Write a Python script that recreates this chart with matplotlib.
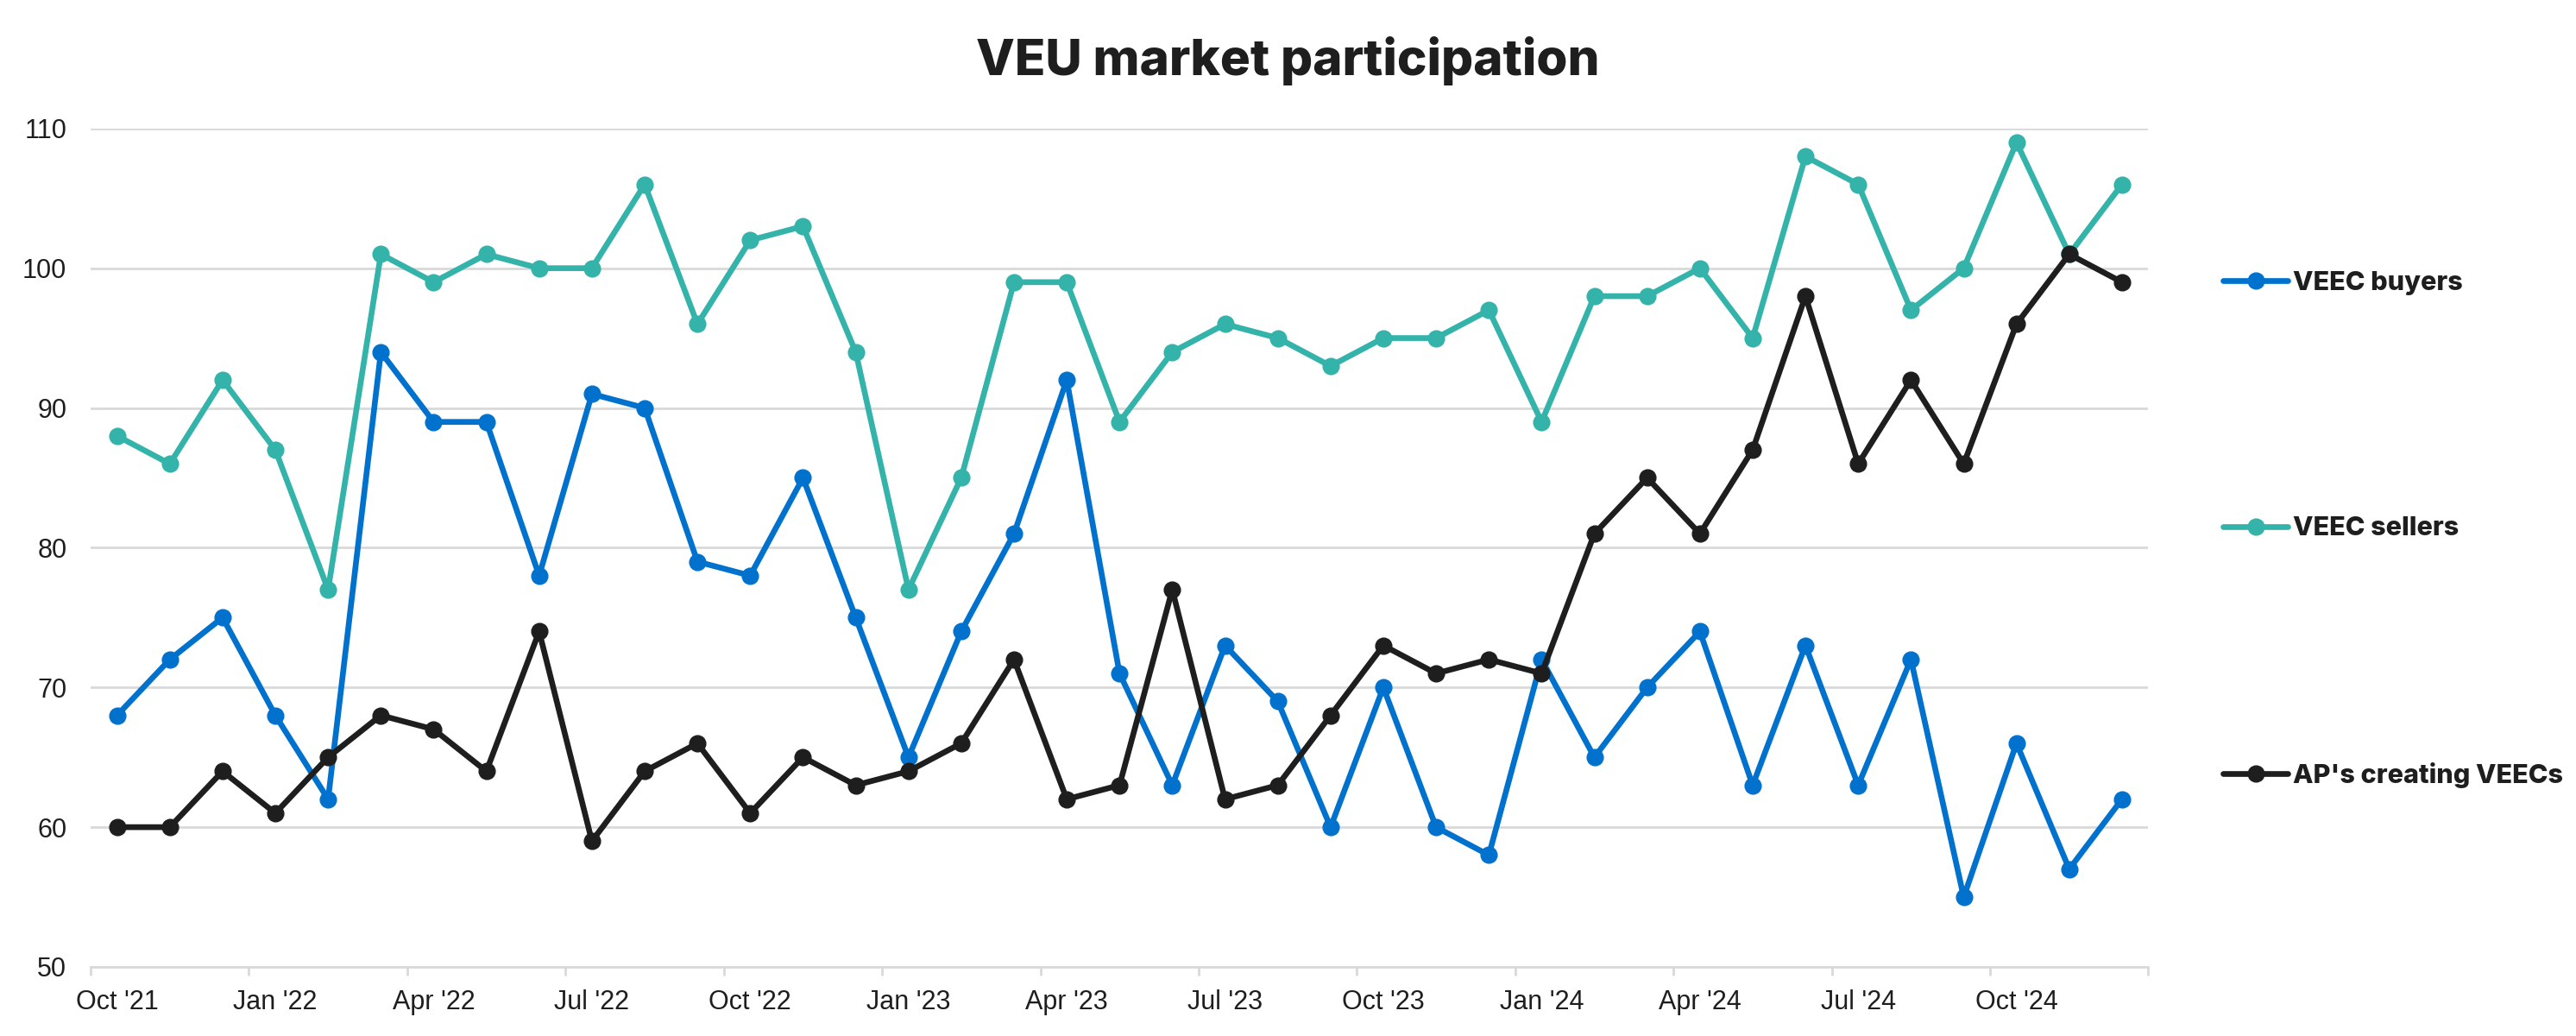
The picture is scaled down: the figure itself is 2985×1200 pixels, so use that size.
import matplotlib
matplotlib.use('Agg')
import matplotlib.pyplot as plt
import numpy as np

# monthly values, Oct 2021 .. Dec 2024
veec_buyers = [68, 72, 75, 68, 62, 94, 89, 89, 78, 91, 90, 79, 78, 85, 75, 65, 74, 81, 92, 71,
               63, 73, 69, 60, 70, 60, 58, 72, 65, 70, 74, 63, 73, 63, 72, 55, 66, 57, 62]
veec_sellers = [88, 86, 92, 87, 77, 101, 99, 101, 100, 100, 106, 96, 102, 103, 94, 77, 85, 99, 99, 89,
                94, 96, 95, 93, 95, 95, 97, 89, 98, 98, 100, 95, 108, 106, 97, 100, 109, 101, 106]
aps_creating = [60, 60, 64, 61, 65, 68, 67, 64, 74, 59, 64, 66, 61, 65, 63, 64, 66, 72, 62, 63,
                77, 62, 63, 68, 73, 71, 72, 71, 81, 85, 81, 87, 98, 86, 92, 86, 96, 101, 99]

tick_labels = ["Oct '21", "Jan '22", "Apr '22", "Jul '22", "Oct '22", "Jan '23", "Apr '23",
               "Jul '23", "Oct '23", "Jan '24", "Apr '24", "Jul '24", "Oct '24"]

series = [
    ('VEEC buyers', veec_buyers, '#0072ce'),
    ('VEEC sellers', veec_sellers, '#33b3a9'),
    ("AP's creating VEECs", aps_creating, '#1e1e1e'),
]

grid_color = '#d9d9d9'
text_color = '#1e1e1e'
tick_font = ['Liberation Sans Narrow', 'Liberation Sans', 'DejaVu Sans']
bold_font = ['Inter', 'Lato', 'DejaVu Sans']

fig = plt.figure(figsize=(29.85, 12), dpi=100)
ax = fig.add_axes([0.0352, 0.0667, 0.834 - 0.0352, 0.876 - 0.0667])

x = np.arange(len(veec_buyers))
for name, vals, color in series:
    ax.plot(x, vals, color=color, linewidth=4.8, marker='o', markersize=13.5,
            solid_capstyle='round', solid_joinstyle='round', label=name)

ax.set_xlim(-0.5, len(x) - 0.5)
ax.set_ylim(50, 110)

ax.set_yticks(np.arange(50, 111, 10))
ax.yaxis.grid(True, color=grid_color, linewidth=2)
ax.set_axisbelow(True)
ax.tick_params(axis='y', length=0, pad=20, labelsize=22, labelcolor=text_color)

ax.set_xticks(np.arange(0, len(x), 3))
ax.set_xticklabels(tick_labels)
ax.set_xticks(np.arange(-0.5, len(x), 3), minor=True)
ax.tick_params(axis='x', which='major', length=0, pad=19, labelsize=22, labelcolor=text_color)
ax.tick_params(axis='x', which='minor', length=7, width=2, color=grid_color)

for lab in ax.get_xticklabels() + ax.get_yticklabels():
    lab.set_family(tick_font)

for side in ['top', 'right', 'left']:
    ax.spines[side].set_visible(False)
ax.spines['bottom'].set_color(grid_color)
ax.spines['bottom'].set_linewidth(2)

fig.text(0.5, 0.941, 'VEU market participation', ha='center', va='center',
         fontsize=42, fontweight='heavy', family=bold_font, color=text_color)

leg = ax.legend(loc='center left', bbox_to_anchor=(0.858, 0.489), bbox_transform=fig.transFigure,
                frameon=False, borderpad=0, labelspacing=8.4, handlelength=2.45, handletextpad=0.2,
                prop={'family': bold_font, 'weight': 'heavy', 'size': 22})
for t in leg.get_texts():
    t.set_color(text_color)

fig.savefig('out.png', dpi=100)
